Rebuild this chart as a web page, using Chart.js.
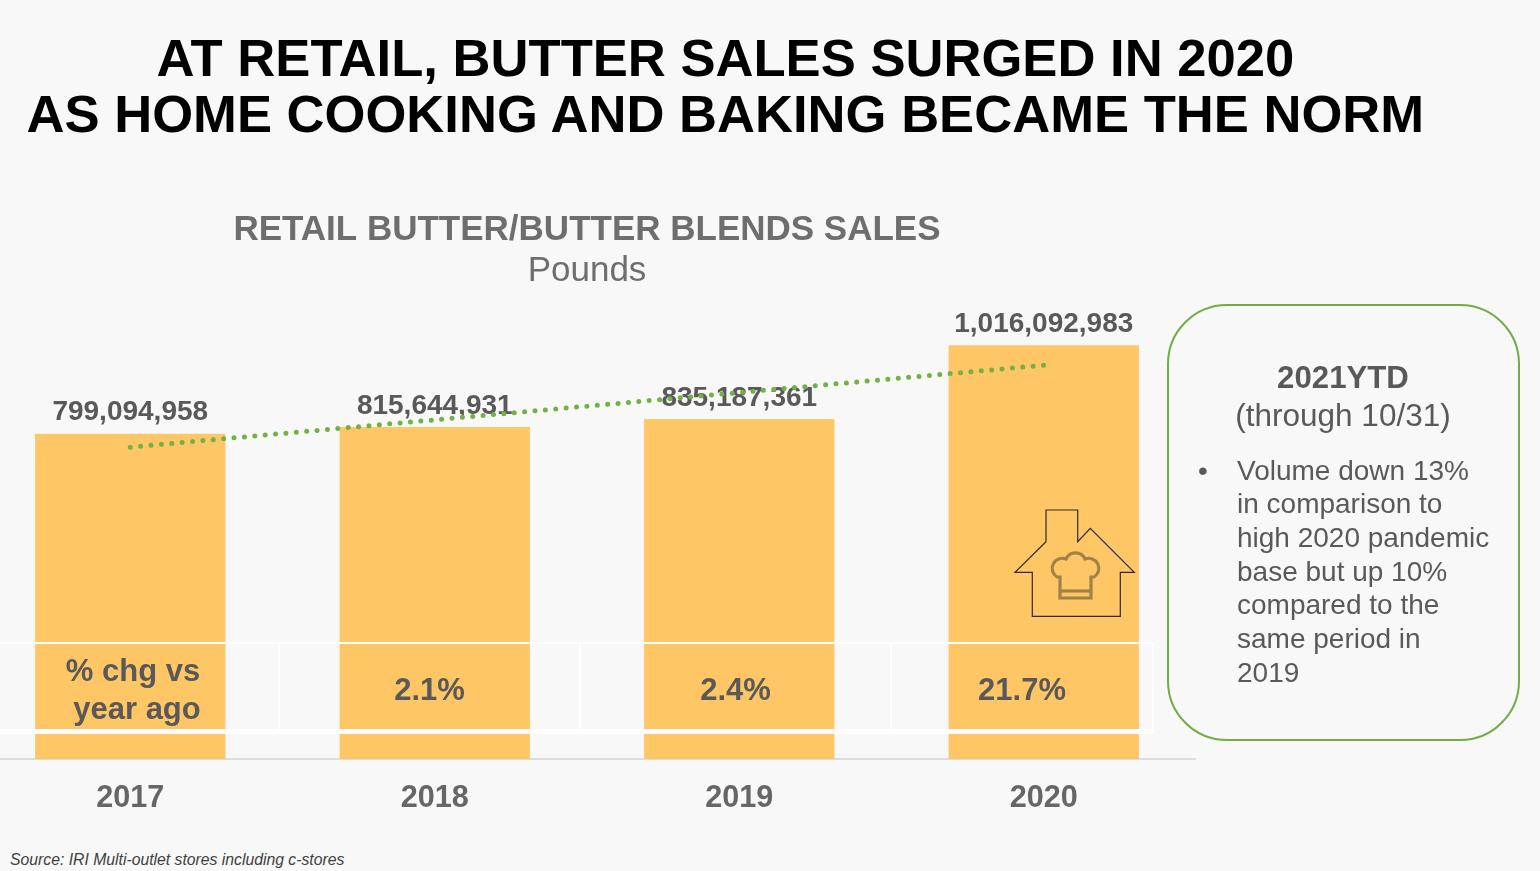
<!DOCTYPE html>
<html>
<head>
<meta charset="utf-8">
<title>Retail butter sales</title>
<script src="https://cdn.jsdelivr.net/npm/chart.js@4/dist/chart.umd.min.js"></script>
<style>
  html, body { margin: 0; padding: 0; width: 1540px; height: 871px; overflow: hidden; background: #f8f8f8; }
  body { position: relative; font-family: "Liberation Sans", Arial, sans-serif; }
  .abs { position: absolute; white-space: nowrap; }
  #chart-wrap { position: absolute; left: -22px; top: 203px; width: 1218px; height: 628px; }
  .headline { font-weight: 700; font-size: 52.6px; color: #000; line-height: 56px; }
  #chg-table { position: absolute; left: 0; top: 642px; width: 1153px; height: 92px; border-collapse: collapse; table-layout: fixed; }
  #chg-table td { padding: 6px 0 0; text-align: center; vertical-align: middle; font-weight: 700; font-size: 31px; color: #595959;
    border-top: 2px solid #fff; border-left: 2px solid #fff; border-right: 2px solid #fff; border-bottom: 5px solid #fff; line-height: 38px; }
  #chg-table td:first-child { border-left: none; }
  #note-box { position: absolute; left: 1167px; top: 304px; width: 353px; height: 437px; box-sizing: border-box;
    border: 2px solid #70ad47; border-radius: 60px; }
  .note { color: #595959; font-size: 28px; line-height: 33.7px; }
</style>
</head>
<body>

<div class="abs headline" style="left:156.500px; top:29.500px;">AT RETAIL, BUTTER SALES SURGED IN 2020</div>
<div class="abs headline" style="left:26.500px; top:86px;">AS HOME COOKING AND BAKING BECAME THE NORM</div>

<div id="chart-wrap"><canvas id="butterChart"></canvas></div>

<table id="chg-table">
  <colgroup><col style="width:279px"><col style="width:301px"><col style="width:311px"><col style="width:262px"></colgroup>
  <tr>
    <td><span style="position:relative; left:-6px;">% chg vs</span><br><span style="position:relative; left:-2px;">year ago</span></td>
    <td>2.1%</td>
    <td>2.4%</td>
    <td>21.7%</td>
  </tr>
</table>

<svg class="abs" style="left:1010px; top:505px;" width="130" height="116" viewBox="1010 505 130 116">
  <path d="M1046 541.7V510H1077.7V541.7L1090.3 528.3L1134.3 572.3H1120.3V616.3H1032.3V572.3H1015L1046 541.7Z" fill="none" stroke="#2b2a26" stroke-width="1.2"/>
  <g fill="none" stroke="#a08248" stroke-width="3.200">
    <path d="M1060 598V577H1057A10.100 10.100 0 0 1 1066 559A10.500 10.500 0 0 1 1085 559A10.100 10.100 0 0 1 1094 577H1091V598Z"/>
    <path d="M1060 591H1091"/>
  </g>
</svg>

<div id="note-box"></div>
<div class="abs note" style="left:1168px; width:350px; top:360px; text-align:center; line-height:36px;">
  <b style="font-size:31.200px;">2021YTD</b><br><span style="font-size:31.500px;">(through 10/31)</span>
</div>
<div class="abs note" style="left:1198px; top:453.500px;">•</div>
<div class="abs note" style="left:1237px; top:453.500px;">Volume down 13%<br>in comparison to<br>high 2020 pandemic<br>base but up 10%<br>compared to the<br>same period in<br>2019</div>

<div class="abs" style="left:10px; top:851px; font-style:italic; font-size:15.750px; color:#404040;">Source: IRI Multi-outlet stores including c-stores</div>

<script>
const years = ['2017', '2018', '2019', '2020'];
const pounds = [799094958, 815644931, 835187361, 1016092983];
const trendPounds = [766000000, 833000000, 900000000, 967000000];

// value labels above the bars, drawn under the dotted trend line
const barLabels = {
  id: 'barLabels',
  beforeDatasetDraw(chart, args) {
    if (args.index !== 0) return;
    const g = chart.ctx;
    const meta = chart.getDatasetMeta(1);
    g.save();
    g.font = '700 28px "Liberation Sans", Arial, sans-serif';
    g.fillStyle = '#595959';
    g.textAlign = 'center';
    g.textBaseline = 'middle';
    meta.data.forEach((bar, i) => {
      g.fillText(pounds[i].toLocaleString('en-US'), bar.x, bar.y - 21);
    });
    g.restore();
  }
};

new Chart(document.getElementById('butterChart'), {
  data: {
    labels: years,
    datasets: [
      {
        type: 'line',
        data: trendPounds,
        borderColor: '#70b244',
        borderWidth: 5,
        borderDash: [0, 10.42],
        borderCapStyle: 'round',
        pointRadius: 0,
        tension: 0,
        order: 1,
      },
      {
        type: 'bar',
        data: pounds,
        backgroundColor: '#ffc666',
        barPercentage: 0.625,
        categoryPercentage: 1,
        order: 2,
      },
    ],
  },
  options: {
    responsive: true,
    maintainAspectRatio: false,
    animation: false,
    layout: { padding: { top: 8, bottom: 1 } },
    scales: {
      x: {
        grid: { display: false },
        border: { color: '#dcdcdc', width: 2 },
        ticks: {
          color: '#666666',
          padding: 13,
          font: { family: '"Liberation Sans", Arial, sans-serif', size: 30.6, weight: '700' },
        },
      },
      y: { display: false, min: 0, max: 1116000000 },
    },
    plugins: {
      legend: { display: false },
      tooltip: { enabled: false },
      title: {
        display: true,
        text: 'RETAIL BUTTER/BUTTER BLENDS SALES',
        color: '#6e6e6e',
        padding: { top: 0, bottom: 1 },
        font: { family: '"Liberation Sans", Arial, sans-serif', size: 35, weight: '700', lineHeight: 1.1 },
      },
      subtitle: {
        display: true,
        text: 'Pounds',
        color: '#6e6e6e',
        padding: { bottom: 12 },
        font: { family: '"Liberation Sans", Arial, sans-serif', size: 35, weight: '400' },
      },
    },
  },
  plugins: [barLabels],
});
</script>
</body>
</html>
